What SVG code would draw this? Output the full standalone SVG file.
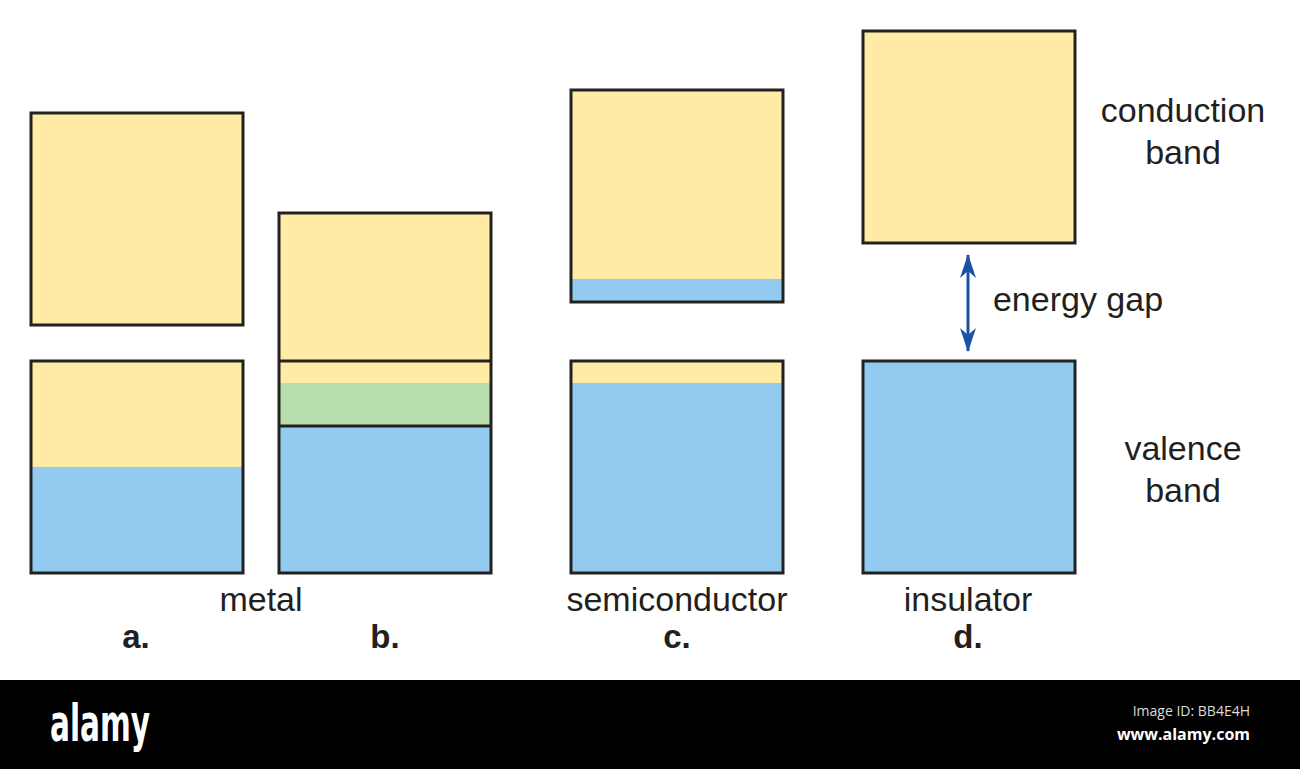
<svg xmlns="http://www.w3.org/2000/svg" width="1300" height="769" viewBox="0 0 1300 769">
<style>
.y{fill:#FFEBA6}
.b{fill:#93CBF0}
.g{fill:#B8DDAD}
.o{fill:none;stroke:#222;stroke-width:3}
.ln{stroke:#222;stroke-width:3}
.t{font-family:"Liberation Sans",Arial,sans-serif;font-size:34px;fill:#231f20;text-anchor:middle}
.l{font-family:"Liberation Sans",Arial,sans-serif;font-size:33px;font-weight:bold;fill:#231f20;text-anchor:middle}
</style>
<defs>
<marker id="ah" viewBox="0 0 24 18" refX="23" refY="9" markerWidth="24" markerHeight="18" orient="auto-start-reverse" markerUnits="userSpaceOnUse">
<path d="M0,1 L24,9 L0,17 L7,9 Z" fill="#1a52a5"/>
</marker>
</defs>
<rect width="1300" height="769" fill="#fff"/>
<g id="a-conduction">
<rect class="y" x="31" y="113" width="212" height="212"/>
<rect class="o" x="31" y="113" width="212" height="212"/>
</g>
<g id="a-valence">
<rect class="y" x="31" y="361" width="212" height="106"/>
<rect class="b" x="31" y="467" width="212" height="106"/>
<rect class="o" x="31" y="361" width="212" height="212"/>
</g>
<g id="b-band">
<rect class="y" x="279" y="213" width="212" height="170"/>
<rect class="g" x="279" y="383" width="212" height="43"/>
<rect class="b" x="279" y="426" width="212" height="147"/>
<line class="ln" x1="279" y1="361" x2="491" y2="361"/>
<line class="ln" x1="279" y1="426" x2="491" y2="426"/>
<rect class="o" x="279" y="213" width="212" height="360"/>
</g>
<g id="c-conduction">
<rect class="y" x="571" y="90" width="212" height="189"/>
<rect class="b" x="571" y="279" width="212" height="23"/>
<rect class="o" x="571" y="90" width="212" height="212"/>
</g>
<g id="c-valence">
<rect class="y" x="571" y="361" width="212" height="22"/>
<rect class="b" x="571" y="383" width="212" height="190"/>
<rect class="o" x="571" y="361" width="212" height="212"/>
</g>
<g id="d-conduction">
<rect class="y" x="863" y="31" width="212" height="212"/>
<rect class="o" x="863" y="31" width="212" height="212"/>
</g>
<g id="d-valence">
<rect class="b" x="863" y="361" width="212" height="212"/>
<rect class="o" x="863" y="361" width="212" height="212"/>
</g>
<g id="connectors">
<line x1="968" y1="255" x2="968" y2="351" stroke="#1a52a5" stroke-width="3" marker-start="url(#ah)" marker-end="url(#ah)"/>
</g>
<g id="labels">
<text class="t" x="1183" y="122">conduction</text>
<text class="t" x="1183" y="164">band</text>
<text class="t" x="1078" y="311">energy gap</text>
<text class="t" x="1183" y="460">valence</text>
<text class="t" x="1183" y="502">band</text>
<text class="t" x="261" y="611">metal</text>
<text class="t" x="677" y="611">semiconductor</text>
<text class="t" x="968" y="611">insulator</text>
<text class="l" x="136" y="648">a.</text>
<text class="l" x="385" y="648">b.</text>
<text class="l" x="677" y="648">c.</text>
<text class="l" x="968" y="648">d.</text>
</g>
<g id="footer">
<rect x="0" y="680" width="1300" height="89" fill="#000"/>
<text x="50" y="741" font-family="'DejaVu Sans Condensed','DejaVu Sans',sans-serif" font-weight="bold" font-size="52" fill="#fff" textLength="100" lengthAdjust="spacingAndGlyphs">alamy</text>
<text x="1250" y="716" font-family="'Open Sans','Noto Sans',sans-serif" font-size="14" fill="#ddd" text-anchor="end">Image ID: BB4E4H</text>
<text x="1250" y="740" font-family="'Open Sans','Noto Sans',sans-serif" font-size="16" font-weight="bold" fill="#fff" text-anchor="end">www.alamy.com</text>
</g>
</svg>
